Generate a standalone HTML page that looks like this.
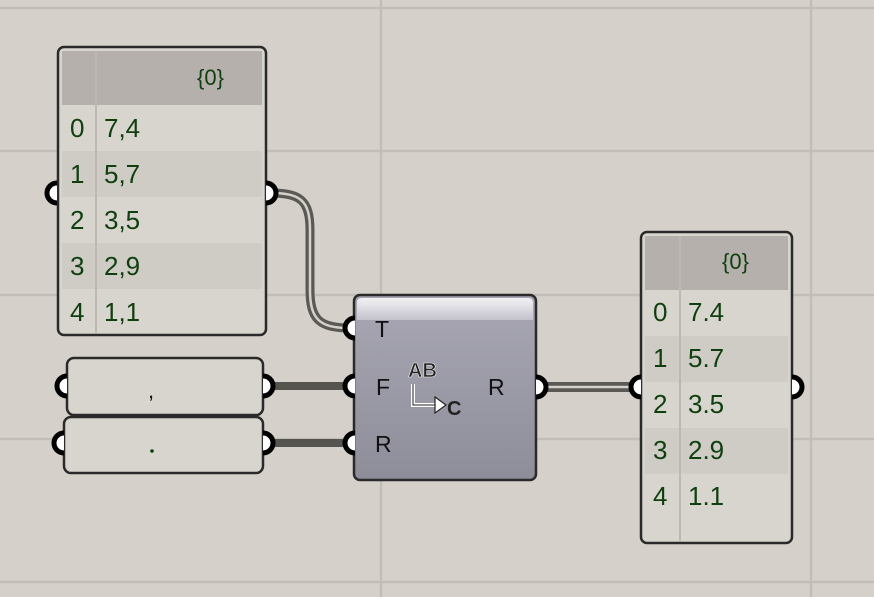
<!DOCTYPE html>
<html><head><meta charset="utf-8"><style>
html,body{margin:0;padding:0;width:874px;height:597px;overflow:hidden;background:#d5d1ca}
svg{display:block}
text{font-family:"Liberation Sans","DejaVu Sans",sans-serif}
</style></head><body>
<svg width="874" height="597" viewBox="0 0 874 597" xmlns="http://www.w3.org/2000/svg">
<defs>
<linearGradient id="cg" x1="0" y1="0" x2="0" y2="1">
<stop offset="0" stop-color="#a8a7b3"/><stop offset="1" stop-color="#8e8d9a"/>
</linearGradient>
<linearGradient id="ch" x1="0" y1="0" x2="0" y2="1">
<stop offset="0" stop-color="#f2f2f5"/><stop offset="1" stop-color="#c3c2cc"/>
</linearGradient>
</defs>
<rect width="874" height="597" fill="#d5d1ca"/>
<g stroke="#c2beb7" stroke-width="2.5">
<line x1="0" y1="8" x2="874" y2="8"/>
<line x1="0" y1="151" x2="874" y2="151"/>
<line x1="0" y1="295" x2="874" y2="295"/>
<line x1="0" y1="439" x2="874" y2="439"/>
<line x1="0" y1="582" x2="874" y2="582"/>
<line x1="381" y1="0" x2="381" y2="597"/>
<line x1="811" y1="0" x2="811" y2="597"/>
</g>

<!-- wires -->
<path d="M270,193 C300,193 310,200 310,230 L310,290 C310,320 320,328 350,328" fill="none" stroke="#5a5955" stroke-width="9"/>
<path d="M270,193 C300,193 310,200 310,230 L310,290 C310,320 320,328 350,328" fill="none" stroke="#d5d1ca" stroke-width="2.5"/>
<line x1="268" y1="386" x2="350" y2="386" stroke="#55544f" stroke-width="8"/>
<line x1="268" y1="443" x2="350" y2="443" stroke="#55544f" stroke-width="8"/>
<line x1="540" y1="387" x2="636" y2="387" stroke="#5a5955" stroke-width="10"/>
<line x1="540" y1="387" x2="636" y2="387" stroke="#d5d1ca" stroke-width="2.5"/>

<!-- left panel -->
<g>
<rect x="58" y="47" width="208" height="288" rx="6" fill="#d8d4ce" stroke="#2a2a2a" stroke-width="2.5"/>
<rect x="62" y="51" width="200" height="54" fill="#b5b0ab"/>
<rect x="62" y="151" width="200" height="46" fill="#cfcbc5"/>
<rect x="62" y="243" width="200" height="46" fill="#cfcbc5"/>
<line x1="96" y1="51" x2="96" y2="333" stroke="#bdb8b2" stroke-width="2"/>
<g fill="#0f3f0f" font-size="26">
<text x="197" y="85" font-size="22">{0}</text>
<text x="70" y="137">0</text><text x="104" y="137">7,4</text>
<text x="70" y="183">1</text><text x="104" y="183">5,7</text>
<text x="70" y="229">2</text><text x="104" y="229">3,5</text>
<text x="70" y="275">3</text><text x="104" y="275">2,9</text>
<text x="70" y="321">4</text><text x="104" y="321">1,1</text>
</g>
</g>

<!-- right panel -->
<g>
<rect x="641" y="232" width="151" height="311" rx="6" fill="#d8d4ce" stroke="#2a2a2a" stroke-width="2.5"/>
<rect x="645" y="236" width="143" height="54" fill="#b5b0ab"/>
<rect x="645" y="336" width="143" height="46" fill="#cfcbc5"/>
<rect x="645" y="428" width="143" height="46" fill="#cfcbc5"/>
<line x1="680" y1="236" x2="680" y2="541" stroke="#bdb8b2" stroke-width="2"/>
<g fill="#0f3f0f" font-size="26">
<text x="722" y="269" font-size="22">{0}</text>
<text x="653" y="321">0</text><text x="688" y="321">7.4</text>
<text x="653" y="367">1</text><text x="688" y="367">5.7</text>
<text x="653" y="413">2</text><text x="688" y="413">3.5</text>
<text x="653" y="459">3</text><text x="688" y="459">2.9</text>
<text x="653" y="505">4</text><text x="688" y="505">1.1</text>
</g>
</g>

<!-- small panels -->
<rect x="67" y="358" width="196" height="57" rx="7" fill="#d8d4ce" stroke="#2a2a2a" stroke-width="2.5"/>
<rect x="64" y="417" width="199" height="56" rx="7" fill="#d8d4ce" stroke="#2a2a2a" stroke-width="2.5"/>
<text x="148" y="398" font-size="22" fill="#111">,</text>
<circle cx="152" cy="451" r="1.8" fill="#0f3f0f"/>

<!-- component -->
<rect x="354" y="295" width="182" height="185" rx="6" fill="url(#cg)" stroke="#2a2a2a" stroke-width="2.5"/>
<path d="M357,320 L357,303 Q357,298 362,298 L528,298 Q533,298 533,303 L533,320 Z" fill="url(#ch)"/>
<g font-size="23" fill="#111">
<text x="375" y="337">T</text>
<text x="376" y="395">F</text>
<text x="375" y="452">R</text>
<text x="488" y="395">R</text>
</g>
<text x="408" y="377" font-size="20" font-weight="bold" fill="#222" stroke="#eee" stroke-width="0.6">AB</text>
<path d="M413,384 L413,405 L438,405" fill="none" stroke="#fff" stroke-width="4"/>
<path d="M413,384 L413,405 L436,405" fill="none" stroke="#222" stroke-width="1"/>
<path d="M435,397 L446,405 L435,413 Z" fill="#fff" stroke="#222" stroke-width="1.2"/>
<text x="447" y="415" font-size="20" font-weight="bold" fill="#222">C</text>

<!-- ports -->
<g fill="#fff" stroke="#000" stroke-width="5">
<path d="M57,183 A10,10 0 0 0 57,203"/>
<path d="M266,183 A10,10 0 0 1 266,203"/>
<path d="M355,318 A10,10 0 0 0 355,338"/>
<path d="M355,376 A10,10 0 0 0 355,396"/>
<path d="M355,433 A10,10 0 0 0 355,453"/>
<path d="M536,377 A10,10 0 0 1 536,397"/>
<path d="M641,377 A10,10 0 0 0 641,397"/>
<path d="M792,377 A10,10 0 0 1 792,397"/>
<path d="M67,376 A10,10 0 0 0 67,396"/>
<path d="M263,376 A10,10 0 0 1 263,396"/>
<path d="M64,433 A10,10 0 0 0 64,453"/>
<path d="M263,433 A10,10 0 0 1 263,453"/>
</g>
</svg>
</body></html>
